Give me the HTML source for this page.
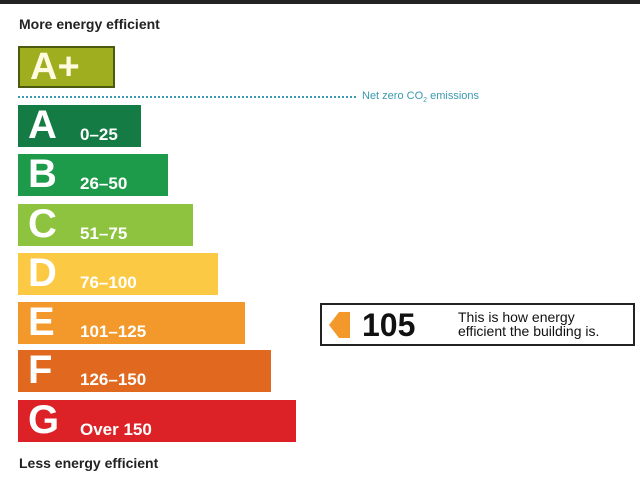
<!DOCTYPE html><html><head><style>
body{margin:0;width:640px;height:479px;background:#fff;position:relative;overflow:hidden;font-family:"Liberation Sans",sans-serif}
.b{position:absolute;left:18px;height:42px;color:#fff;font-weight:bold}
.b .l{position:absolute;left:10px;top:-2px;font-size:40px}
.b .r{position:absolute;left:62px;bottom:2px;font-size:17px}
.t{position:absolute;font-size:14px;font-weight:bold;color:#222}
</style></head><body>
<div style="position:absolute;left:0;top:0;width:640px;height:4px;background:#222"></div>
<div class="t" style="left:19px;top:16px">More energy efficient</div>
<div class="b" style="top:46px;width:97px;background:#9fae1e;border:2px solid #4c5a10;box-sizing:border-box;"><span class="l" style="left:10px;top:-2px;font-size:38px;color:#fffbe0">A+</span></div>
<div style="position:absolute;left:18px;top:96px;width:338px;border-top:2px dotted #3a9ab0"></div>
<div style="position:absolute;left:362px;top:90px;font-size:11px;color:#3a9ab0">Net zero CO<sub style="font-size:7px">2</sub> emissions</div>
<div class="b" style="top:105px;width:123px;background:#137b43"><span class="l">A</span><span class="r">0–25</span></div>
<div class="b" style="top:154px;width:150px;background:#1d9a4a"><span class="l">B</span><span class="r">26–50</span></div>
<div class="b" style="top:204px;width:175px;background:#8dc33f"><span class="l">C</span><span class="r">51–75</span></div>
<div class="b" style="top:253px;width:200px;background:#fbc944"><span class="l">D</span><span class="r">76–100</span></div>
<div class="b" style="top:302px;width:227px;background:#f3982b"><span class="l">E</span><span class="r">101–125</span></div>
<div class="b" style="top:350px;width:253px;background:#e0681f"><span class="l">F</span><span class="r">126–150</span></div>
<div class="b" style="top:400px;width:278px;background:#dc2127"><span class="l">G</span><span class="r">Over 150</span></div>
<div class="t" style="left:19px;top:455px">Less energy efficient</div>
<div style="position:absolute;left:320px;top:303px;width:311px;height:39px;border:2px solid #222;background:#fff">
<div style="position:absolute;left:7px;top:7px;width:0;height:0;border-top:13px solid transparent;border-bottom:13px solid transparent;border-right:10px solid #f3982b"></div>
<div style="position:absolute;left:17px;top:7px;width:11px;height:26px;background:#f3982b"></div>
<div style="position:absolute;left:40px;top:2px;font-size:32px;font-weight:bold;color:#111">105</div>
<div style="position:absolute;left:136px;top:5px;font-size:14px;line-height:14px;color:#111">This is how energy<br>efficient the building is.</div>
</div>
</body></html>
